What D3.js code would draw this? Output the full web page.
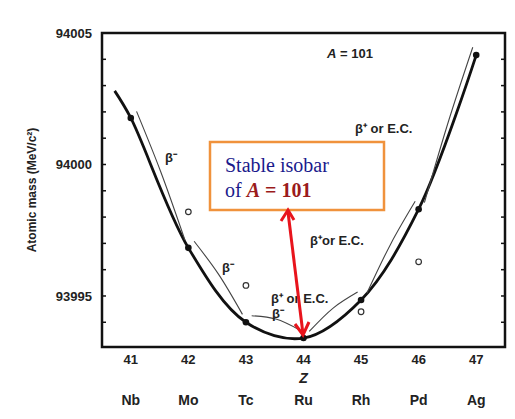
<!DOCTYPE html>
<html><head><meta charset="utf-8">
<script src="https://cdn.jsdelivr.net/npm/d3@7"></script>
<style>body{margin:0;background:#fff}text{font-family:"Liberation Sans",Arial,sans-serif}text.serif{font-family:"Liberation Serif","Times New Roman",serif}</style>
</head><body><svg id="c" width="515" height="419"></svg>
<script>
// data
const zValues = [41, 42, 43, 44, 45, 46, 47];
const elements = ['Nb', 'Mo', 'Tc', 'Ru', 'Rh', 'Pd', 'Ag'];
const groundMass = [94001.77, 93996.83, 93994.0, 93993.4, 93994.85, 93998.3, 94004.16];
const openZ = [42, 43, 45, 46];
const openMass = [93998.2, 93995.4, 93994.4, 93996.3];
const yTicks = [93995, 94000, 94005];

const svg = d3.select('#c');
const x = d3.scaleLinear().domain([40.5, 47.5]).range([102, 505]);
const y = d3.scaleLinear().domain([93993.06, 94005]).range([347, 33]);

// frame
svg.append('rect').attr('x', 102).attr('y', 33).attr('width', 403).attr('height', 314)
  .attr('fill', 'none').attr('stroke', '#111').attr('stroke-width', 2.5);

// minor ticks on left and right
d3.range(93994, 94005).forEach(v => {
  svg.append('line').attr('x1', 102).attr('x2', 106).attr('y1', y(v)).attr('y2', y(v)).attr('stroke', '#111').attr('stroke-width', 1.5);
  svg.append('line').attr('x1', 501).attr('x2', 505).attr('y1', y(v)).attr('y2', y(v)).attr('stroke', '#111').attr('stroke-width', 1.5);
});
yTicks.forEach(v => {
  svg.append('text').attr('x', 92).attr('y', y(v) + 5).attr('text-anchor', 'end')
    .attr('font-size', 13).attr('font-weight', 'bold').attr('fill', '#222').text(v);
});
zValues.forEach((z, i) => {
  svg.append('text').attr('x', x(z)).attr('y', 364).attr('text-anchor', 'middle')
    .attr('font-size', 13).attr('font-weight', 'bold').attr('fill', '#222').text(z);
  svg.append('text').attr('x', x(z)).attr('y', 405).attr('text-anchor', 'middle')
    .attr('font-size', 14).attr('font-weight', 'bold').attr('fill', '#222').text(elements[i]);
});
svg.append('text').attr('x', x(44)).attr('y', 383).attr('text-anchor', 'middle')
  .attr('font-size', 14).attr('font-weight', 'bold').attr('font-style', 'italic').attr('fill', '#222').text('Z');
svg.append('text').attr('transform', 'translate(36,190) rotate(-90)').attr('text-anchor', 'middle')
  .attr('font-size', 12).attr('font-weight', 'bold').attr('fill', '#222').text('Atomic mass (MeV/c²)');

// thick parabola through ground states
const curvePts = [[40.72, 94002.8]].concat(zValues.map((z, i) => [z, groundMass[i]]));
const line = d3.line().x(d => x(d[0])).y(d => y(d[1])).curve(d3.curveCatmullRom);
svg.append('path').attr('d', line(curvePts)).attr('fill', 'none').attr('stroke', '#111').attr('stroke-width', 2.8);

// thin decay lines between neighbours (offset above the thick curve)
for (let i = 0; i < zValues.length - 1; i++) {
  const a = [zValues[i] + 0.1, groundMass[i] + 0.25], b = [zValues[i + 1] - 0.06, groundMass[i + 1] + 0.3];
  const mid = [(a[0] + b[0]) / 2, (a[1] + b[1]) / 2 + 0.15];
  svg.append('path').attr('d', line([a, mid, b])).attr('fill', 'none').attr('stroke', '#444').attr('stroke-width', 1.1);
}

svg.selectAll('.g').data(zValues).enter().append('circle')
  .attr('cx', d => x(d)).attr('cy', (d, i) => y(groundMass[i])).attr('r', 3.3).attr('fill', '#111');
svg.selectAll('.o').data(openZ).enter().append('circle')
  .attr('cx', d => x(d)).attr('cy', (d, i) => y(openMass[i])).attr('r', 2.8).attr('fill', 'none').attr('stroke', '#333').attr('stroke-width', 1.2);

// annotations
const ann = (tx, ty, t, sz) => svg.append('text').attr('x', tx).attr('y', ty).attr('font-size', sz || 13)
  .attr('font-weight', 'bold').attr('fill', '#222').text(t);
svg.append('text').attr('x', 327).attr('y', 58).attr('font-size', 13).attr('font-weight', 'bold').attr('fill', '#222')
  .html('<tspan font-style="italic">A</tspan> = 101');
ann(165, 162, 'β⁻');
ann(222, 272, 'β⁻');
ann(272, 318, 'β⁻');
ann(355, 133, 'β⁺ or E.C.');
ann(310, 245, 'β⁺or E.C.');
ann(271, 303, 'β⁺ or E.C.');

// stable isobar box and arrow
svg.append('rect').attr('x', 210).attr('y', 142).attr('width', 174).attr('height', 68)
  .attr('fill', '#fff').attr('stroke', '#f0923c').attr('stroke-width', 2.5);
svg.append('text').attr('class', 'serif').attr('x', 225).attr('y', 172)
  .attr('font-size', 20).attr('fill', '#1a1a8c').text('Stable isobar');
svg.append('text').attr('class', 'serif').attr('x', 225).attr('y', 197)
  .attr('font-size', 20).attr('fill', '#1a1a8c')
  .html('of  <tspan fill="#9b1b1b" font-weight="bold" font-style="italic">A</tspan><tspan fill="#9b1b1b" font-weight="bold"> = 101</tspan>');
svg.append('line').attr('x1', 288).attr('y1', 212).attr('x2', 303).attr('y2', 334).attr('stroke', '#e8141c').attr('stroke-width', 3);
svg.append('path').attr('d', 'M281,221 L288,210 L294,220').attr('fill', 'none').attr('stroke', '#e8141c').attr('stroke-width', 3);
svg.append('path').attr('d', 'M295,324 L303,335 L309,322').attr('fill', 'none').attr('stroke', '#e8141c').attr('stroke-width', 3);
</script></body></html>
